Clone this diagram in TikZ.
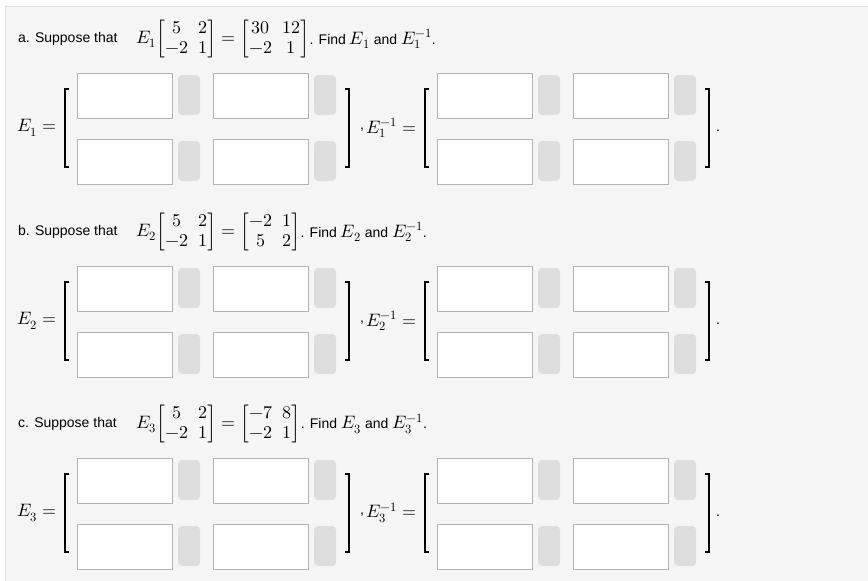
\documentclass[tikz,border=0pt]{standalone}
\usepackage{amsmath}
\usepackage{fontspec}
\setmainfont{Liberation Sans}
\usepackage{unicode-math}
\setmathfont{Latin Modern Math}
\begin{document}
\begin{tikzpicture}[x=1pt,y=-1pt,
  ansbox/.style={draw=black!30,fill=white,line width=0.8pt},
  greybtn/.style={fill=black!13,rounded corners=4pt,draw=none},
  brk/.style={line width=1.4pt},
  txt/.style={font=\fontsize{14}{17}\selectfont,inner sep=0pt},
  mtx/.style={font=\fontsize{18}{20}\selectfont,inner sep=0pt}]
\useasboundingbox (0,0) rectangle (868,581);
\fill[white] (0,0) rectangle (868,581);
\draw[fill=black!4,draw=black!12] (5,581) -- (5,6) -- (868,6) -- (868,581) -- cycle;
\foreach \s/\L/\R/\oy in {a/1/{\begin{bmatrix}30&12\\-2&1\end{bmatrix}}/0,
                          b/2/{\begin{bmatrix}-2&1\\5&2\end{bmatrix}}/193,
                          c/3/{\begin{bmatrix}-7&8\\-2&1\end{bmatrix}}/385}{
  \begin{scope}[yshift=-\oy pt]
  \node[txt,anchor=west] (q\s) at (18,39) {\s. Suppose that};
  \node[mtx,anchor=west] (m\s) at (136,39) {$E_{\L}\!\begin{bmatrix}5&2\\-2&1\end{bmatrix}=\R$};
  \node[txt,anchor=west] (f\s) at (m\s.east) {. Find {\fontsize{18}{20}\selectfont$E_{\L}$} and {\fontsize{18}{20}\selectfont$E_{\L}^{-1}$}.};
  \node[mtx,anchor=west] (e\s) at (17,128) {$E_{\L}=$};
  \node[txt,anchor=west] (c\s) at (360,130) {,};
  \node[mtx,anchor=west] (i\s) at (366,128) {$E_{\L}^{-1}=$};
  \node[txt] (p\s) at (718,131) {.};
  \foreach \bx in {0,360}{
    \draw[brk] (69+\bx,89) -- (65+\bx,89) -- (65+\bx,167) -- (69+\bx,167);
    \draw[brk] (345+\bx,89) -- (349+\bx,89) -- (349+\bx,167) -- (345+\bx,167);
    \foreach \by in {0,66}{
      \draw[ansbox] (77+\bx,73+\by) rectangle (172+\bx,118+\by);
      \fill[greybtn] (178+\bx,75+\by) rectangle (200+\bx,115+\by);
      \draw[ansbox] (213+\bx,73+\by) rectangle (308+\bx,118+\by);
      \fill[greybtn] (314+\bx,75+\by) rectangle (336+\bx,115+\by);
    }
  }
  \end{scope}
}
\end{tikzpicture}
\end{document}
